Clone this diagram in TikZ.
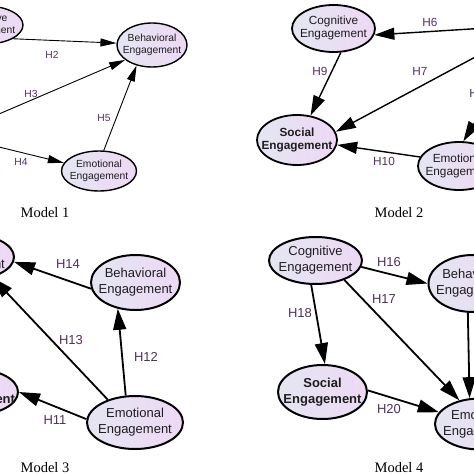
\documentclass[tikz,border=0pt]{standalone}
\usepackage{fontspec}
\setmainfont{Liberation Serif}
\newfontfamily\sansfont{Liberation Sans}
\usetikzlibrary{shapes.geometric}
\usetikzlibrary{arrows.meta}

\definecolor{ellleft}{RGB}{228,230,242}
\definecolor{ellright}{RGB}{238,216,244}
\definecolor{hypcolor}{RGB}{82,48,98}
\definecolor{eltext}{RGB}{30,30,30}

\newcommand{\twolines}[2]{\makebox[0pt]{\begin{tabular}{@{}c@{}}#1\\#2\end{tabular}}}

\tikzset{
	latent/.style = {ellipse, draw = black, inner sep = 0pt, left color = ellleft, right color = ellright, text = eltext},
	hyp/.style = {text = hypcolor, inner sep = 0pt},
	caption/.style = {font = \fontsize{14.5}{16}\selectfont, inner sep = 0pt}
}

\begin{document}
\begin{tikzpicture}[x = 1pt, y = -1pt]
		\useasboundingbox (0, 0) rectangle (474, 474);
		\fill [white] (0, 0) rectangle (474, 474);
		\clip (0, 0) rectangle (474, 474);
		
		% Model 1
		\begin{scope}[font = \sansfont\fontsize{10.3}{11.7}\selectfont,
		every node/.style = {latent, line width = 1.4pt}]
		\node (c1) [minimum width = 74pt, minimum height = 38pt] at (-14, 25) {\twolines{Cognitive}{Engagement}};
		\node (s1) [minimum width = 80pt, minimum height = 44pt] at (-50, 135) {\twolines{\textbf{Social}}{\textbf{Engagement}}};
		\node (b1) [minimum width = 70pt, minimum height = 44pt] at (152, 45) {\twolines{Behavioral}{Engagement}};
		\node (e1) [minimum width = 75pt, minimum height = 40pt] at (99, 171) {\twolines{Emotional}{Engagement}};
		\end{scope}
		
		\begin{scope}[>={Triangle[length = 16pt, width = 8pt]},
		every edge/.style = {draw = black, line width = 0.9pt}]
		\path [->] 	(c1.333) edge (b1.177)
		(s1) edge (b1.209)
		(s1) edge (e1.167)
		(e1.77) edge (b1.233);
		\end{scope}
		
		\begin{scope}[every node/.style = {hyp, font = \sansfont\fontsize{10.3}{12}\selectfont}]
		\node (h2) at (52, 55) {H2};
		\node (h3) at (31, 94) {H3};
		\node (h4) at (21, 162) {H4};
		\node (h5) at (104, 118) {H5};
		\end{scope}
		
		\node (m1) [caption] at (45, 212.5) {Model 1};
		
		% Model 2
		\begin{scope}[font = \sansfont\fontsize{11.8}{13.3}\selectfont,
		every node/.style = {latent, line width = 1.8pt}]
		\node (c2) [minimum width = 83pt, minimum height = 47pt] at (333.5, 28.5) {\twolines{Cognitive}{Engagement}};
		\node (s2) [minimum width = 80pt, minimum height = 50pt] at (297, 140) {\twolines{\textbf{Social}}{\textbf{Engagement}}};
		\node (e2) [minimum width = 82pt, minimum height = 48pt] at (459, 166) {\twolines{Emotional}{Engagement}};
		\node (b2) [minimum width = 84pt, minimum height = 48pt] at (535, 25) {\twolines{Behavioral}{Engagement}};
		\end{scope}
		
		\begin{scope}[>={Triangle[length = 20pt, width = 12pt]},
		every edge/.style = {draw = black, line width = 1.4pt}]
		\path [->] 	(b2) edge (c2.351)
		(b2) edge (s2.12)
		(b2) edge (e2.80)
		(c2.287) edge (s2.61)
		(e2.167) edge (s2.353);
		\end{scope}
		
		\begin{scope}[every node/.style = {hyp, font = \sansfont\fontsize{11.8}{13}\selectfont}]
		\node (h6) at (430, 22) {H6};
		\node (h7) at (420, 71) {H7};
		\node (h8) at (477, 93) {H8};
		\node (h9) at (320, 71) {H9};
		\node (h10) at (384, 161) {H10};
		\end{scope}
		
		\node (m2) [caption] at (399, 212.5) {Model 2};
		
		% Model 3
		\begin{scope}[font = \sansfont\fontsize{13}{16}\selectfont,
		every node/.style = {latent, line width = 2pt}]
		\node (c3) [minimum width = 92pt, minimum height = 46pt] at (-32, 257) {\twolines{Cognitive}{Engagement}};
		\node (s3) [minimum width = 84pt, minimum height = 44pt] at (-24, 392) {\twolines{\textbf{Social}}{\textbf{Engagement}}};
		\node (b3) [minimum width = 89pt, minimum height = 55pt] at (135.5, 282.5) {\twolines{Behavioral}{Engagement}};
		\node (e3) [minimum width = 96pt, minimum height = 53pt] at (135, 422.5) {\twolines{Emotional}{Engagement}};
		\end{scope}
		
		\begin{scope}[>={Triangle[length = 21pt, width = 13pt]},
		every edge/.style = {draw = black, line width = 1.8pt}]
		\path [->] 	(b3.188) edge (c3.354)
		(e3.140) edge (c3.320)
		(e3.109) edge (b3.236)
		(e3.176) edge (s3.east);
		\end{scope}
		
		\begin{scope}[every node/.style = {hyp, font = \sansfont\fontsize{13}{15}\selectfont}]
		\node (h14) at (68, 264) {H14};
		\node (h13) at (71, 340) {H13};
		\node (h12) at (146, 357) {H12};
		\node (h11) at (55, 420) {H11};
		\end{scope}
		
		\node (m3) [caption] at (45, 468) {Model 3};
		
		% Model 4
		\begin{scope}[font = \sansfont\fontsize{13}{16}\selectfont,
		every node/.style = {latent, line width = 2pt}]
		\node (c4) [minimum width = 93pt, minimum height = 47pt] at (315.5, 260.5) {\twolines{Cognitive}{Engagement}};
		\node (b4) [minimum width = 89pt, minimum height = 57pt] at (473, 283.5) {\twolines{Behavioral}{Engagement}};
		\node (s4) [minimum width = 89pt, minimum height = 54pt] at (322.5, 392) {\twolines{\textbf{Social}}{\textbf{Engagement}}};
		\node (e4) [minimum width = 90pt, minimum height = 51pt] at (480, 424) {\twolines{Emotional}{Engagement}};
		\end{scope}
		
		\begin{scope}[>={Triangle[length = 21pt, width = 13pt]},
		every edge/.style = {draw = black, line width = 1.8pt}]
		\path [->] 	(c4.352) edge (b4.180)
		(c4.326) edge (e4.131)
		(c4.260) edge (s4.85)
		(s4.2) edge (e4.164)
		(b4.260) edge (e4.112);
		\end{scope}
		
		\begin{scope}[every node/.style = {hyp, font = \sansfont\fontsize{13}{15}\selectfont}]
		\node (h16) at (389, 262) {H16};
		\node (h17) at (384, 299) {H17};
		\node (h18) at (300, 313) {H18};
		\node (h20) at (389, 409) {H20};
		\end{scope}
		
		\node (m4) [caption] at (399, 468) {Model 4};
		
		\end{tikzpicture}
\end{document}
